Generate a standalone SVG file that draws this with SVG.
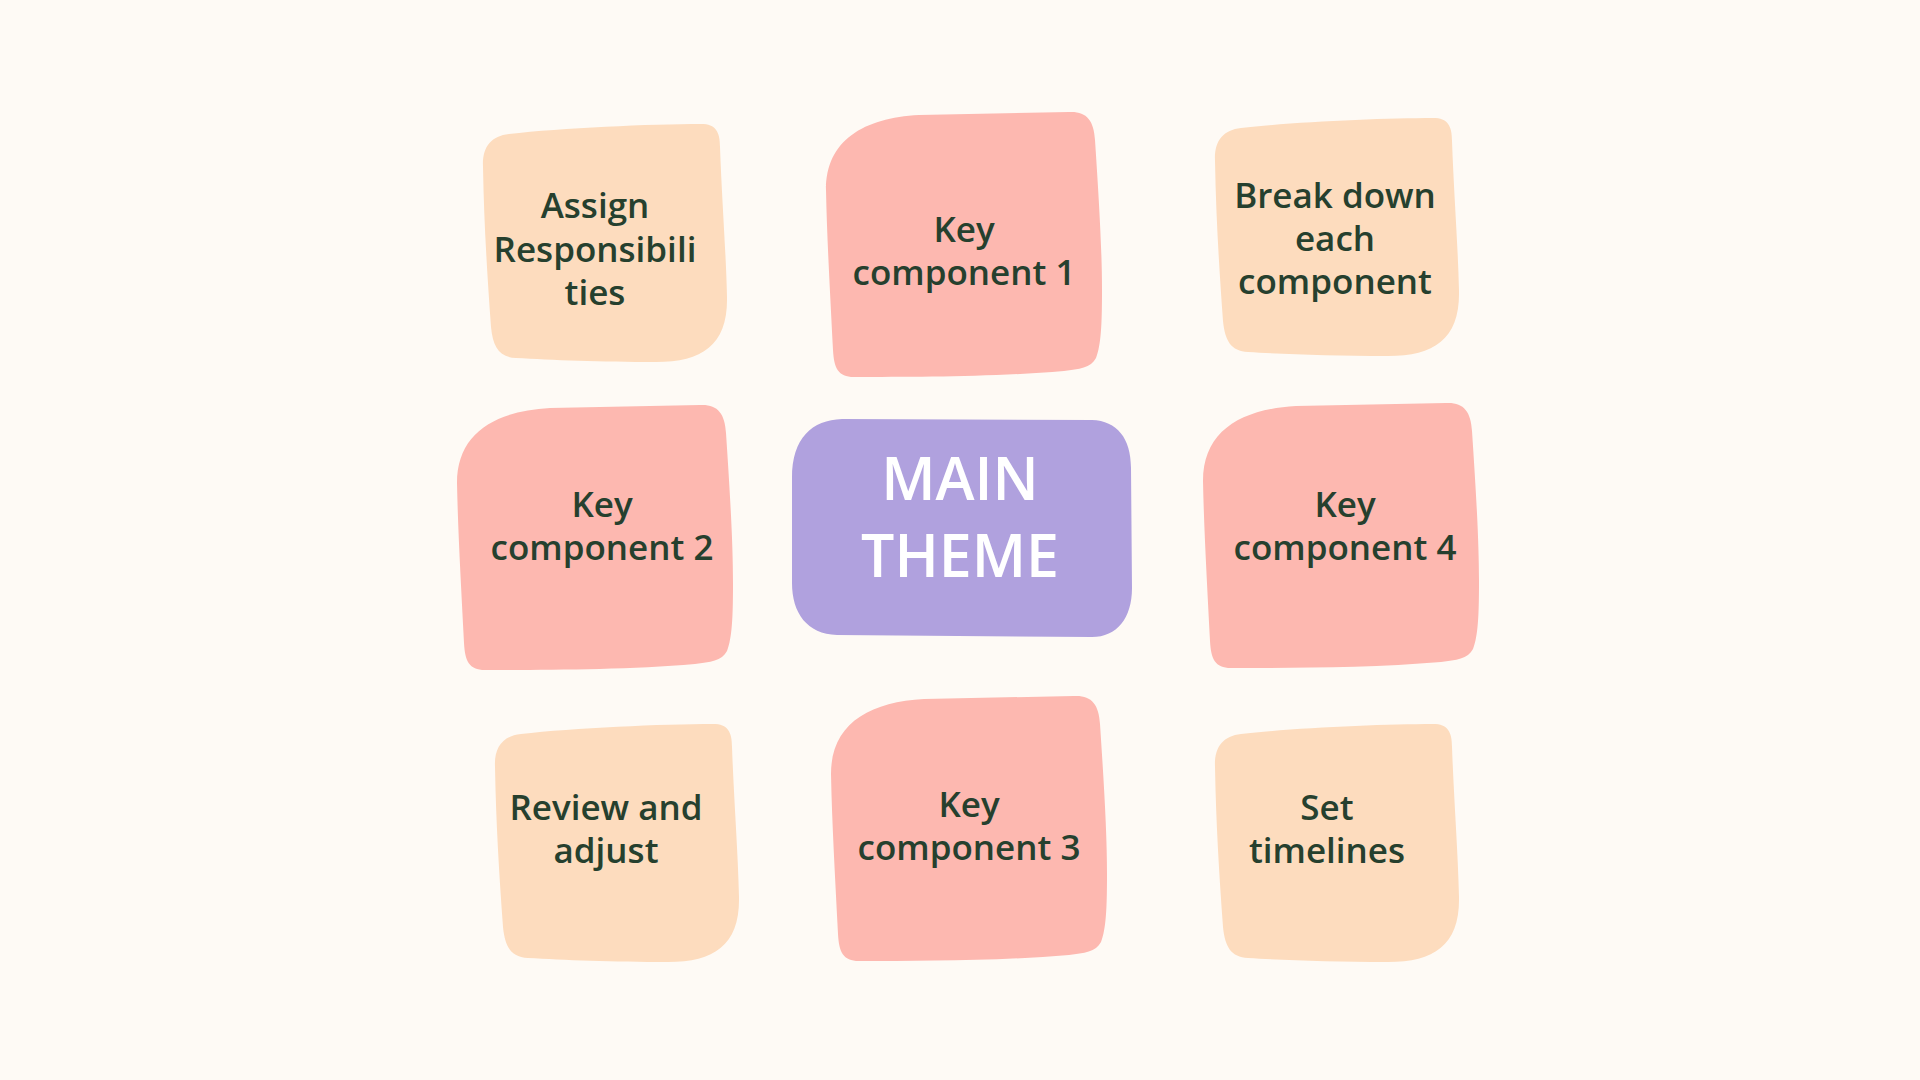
<svg xmlns="http://www.w3.org/2000/svg" xmlns:xlink="http://www.w3.org/1999/xlink" width="1920" height="1080" viewBox="0 0 1920 1080">
<defs>
<style>
.peach{fill:#FDDCBE}
.pink{fill:#FDB8B0}
.main{fill:#B0A1DE}
.lbl{font-family:"Open Sans","Lato","Liberation Sans",sans-serif;font-weight:600;font-size:35px;fill:#26402E;text-anchor:middle}
.mt{font-family:"Open Sans","Lato","Liberation Sans",sans-serif;font-weight:600;font-size:59px;fill:#FFFFFF;text-anchor:middle}
</style>
<path id="peachShape" d="M 28,12 C 80,6 170,2 220,2 C 235,2 239,10 239,25 C 241,80 245,130 246,175 C 247,222 222,240 175,240 C 120,240 70,238 35,236 C 18,235 12,225 10,205 C 6,150 3,100 2,45 C 1,25 10,14 28,12 Z"/>
<path id="pinkShape" d="M 2,80 C 2,30 40,8 95,5 L 245,2 C 262,1 270,10 271,30 C 275,90 278,140 278,180 C 278,215 277,235 272,248 C 267,258 255,259 240,261 C 170,267 90,267 30,267 C 14,267 10,258 9,240 C 6,180 3,130 2,80 Z"/>
</defs>
<rect width="1920" height="1080" fill="#FEFAF5"/>
<g id="connectors"></g>
<g id="node-assign">
<use xlink:href="#peachShape" class="peach" x="481" y="122"/>
<text class="lbl"><tspan x="595" y="218">Assign</tspan><tspan x="595" y="262">Responsibili</tspan><tspan x="595" y="305">ties</tspan></text>
</g>
<g id="node-key1">
<use xlink:href="#pinkShape" class="pink" x="824" y="110"/>
<text class="lbl"><tspan x="964" y="242">Key</tspan><tspan x="964" y="285">component 1</tspan></text>
</g>
<g id="node-breakdown">
<use xlink:href="#peachShape" class="peach" x="1213" y="116"/>
<text class="lbl"><tspan x="1335" y="208">Break down</tspan><tspan x="1335" y="251">each</tspan><tspan x="1335" y="294">component</tspan></text>
</g>
<g id="node-key2">
<use xlink:href="#pinkShape" class="pink" x="455" y="403"/>
<text class="lbl"><tspan x="602" y="517">Key</tspan><tspan x="602" y="560">component 2</tspan></text>
</g>
<g id="node-main">
<path class="main" d="M 792,478 C 792,438 812,420 842,419 L 1092,420 C 1117,421 1131,438 1131,468 L 1132,588 C 1132,618 1117,637 1092,637 L 837,635 C 807,634 792,613 792,583 Z"/>
<text class="mt"><tspan x="960" y="500">MAIN</tspan><tspan x="960" y="577">THEME</tspan></text>
</g>
<g id="node-key4">
<use xlink:href="#pinkShape" class="pink" x="1201" y="401"/>
<text class="lbl"><tspan x="1345" y="517">Key</tspan><tspan x="1345" y="560">component 4</tspan></text>
</g>
<g id="node-review">
<use xlink:href="#peachShape" class="peach" x="493" y="722"/>
<text class="lbl"><tspan x="606" y="820">Review and</tspan><tspan x="606" y="863">adjust</tspan></text>
</g>
<g id="node-key3">
<use xlink:href="#pinkShape" class="pink" x="829" y="694"/>
<text class="lbl"><tspan x="969" y="817">Key</tspan><tspan x="969" y="860">component 3</tspan></text>
</g>
<g id="node-timelines">
<use xlink:href="#peachShape" class="peach" x="1213" y="722"/>
<text class="lbl"><tspan x="1327" y="820">Set</tspan><tspan x="1327" y="863">timelines</tspan></text>
</g>
</svg>
